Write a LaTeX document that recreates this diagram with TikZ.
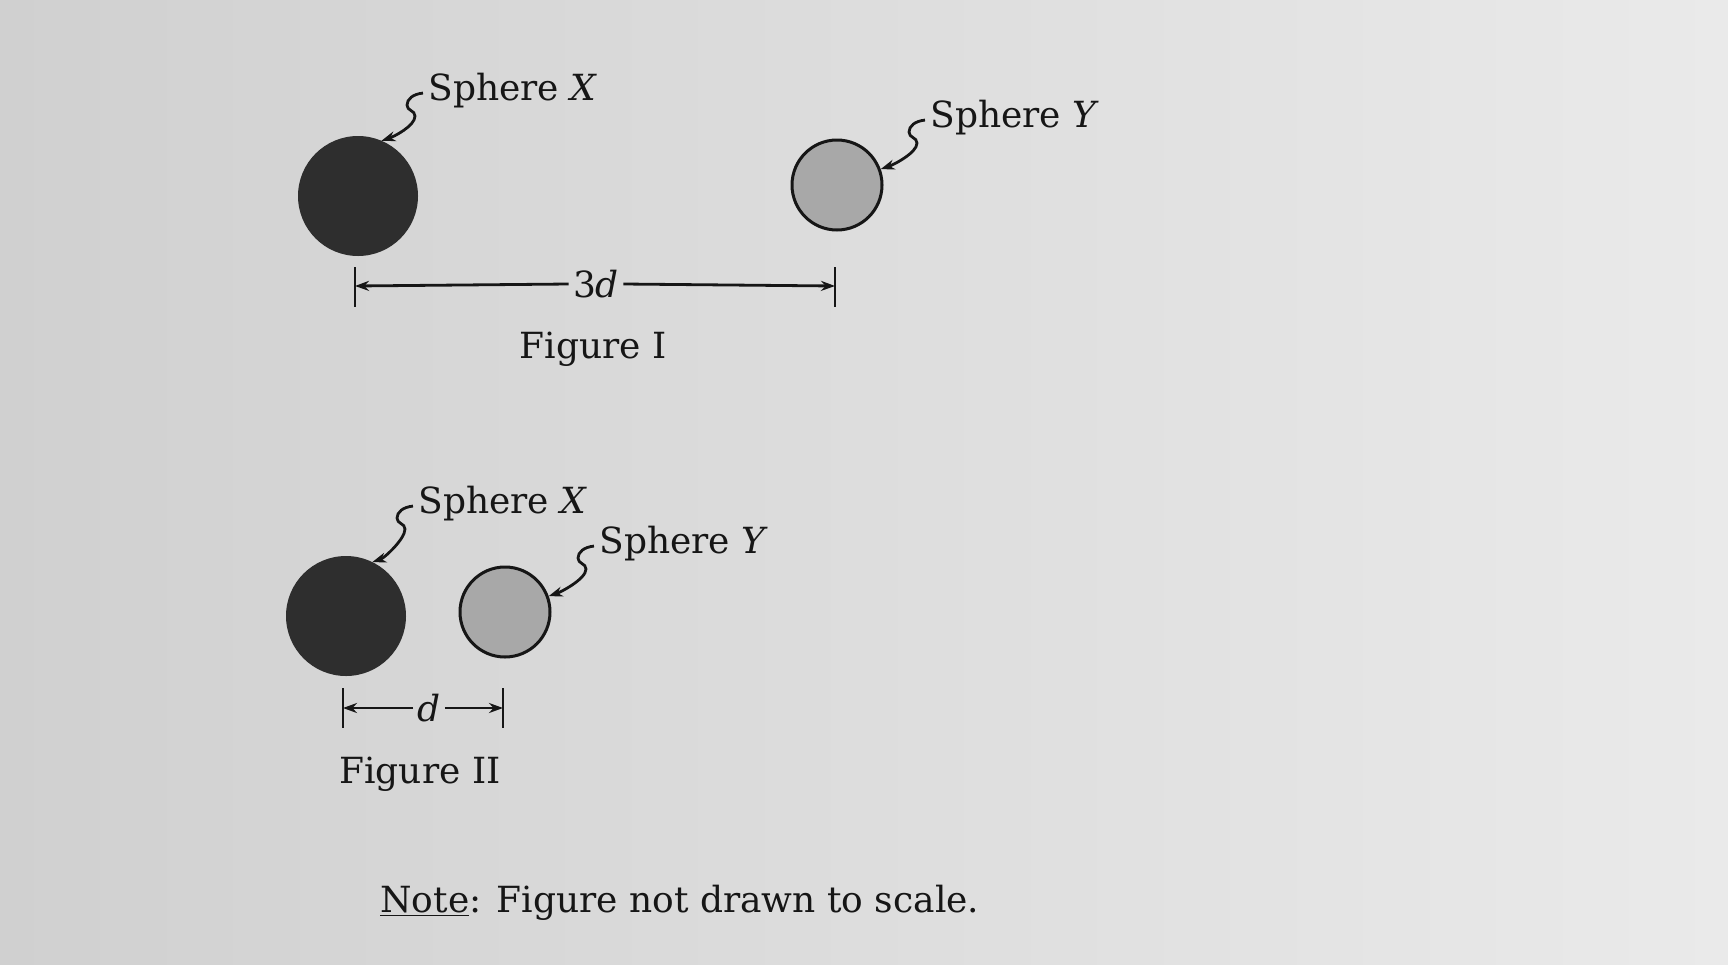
\documentclass[tikz,border=0pt]{standalone}
\usepackage{fontspec}
\setmainfont{DejaVu Serif}
\usetikzlibrary{arrows.meta,calc}
\definecolor{ink}{HTML}{161616}
\definecolor{darkball}{HTML}{2E2E2E}
\definecolor{lightball}{HTML}{A8A8A8}
\definecolor{bgleft}{HTML}{D0D0D0}
\definecolor{bgright}{HTML}{EAEAEA}
\begin{document}
\begin{tikzpicture}[x=0.5pt,y=-0.5pt,
  lbl/.style={inner sep=0pt,font=\fontsize{18}{22}\selectfont,text=ink},
  dark/.style={circle,fill=darkball,draw=darkball,line width=1pt,minimum size=59pt,inner sep=0pt},
  light/.style={circle,fill=lightball,draw=ink,line width=1.5pt,minimum size=45pt,inner sep=0pt},
  leader/.style={draw=ink,line width=1.4pt,-{Stealth[length=7pt,width=5pt]}},
  dimline/.style={draw=ink,line width=1.4pt,-{Stealth[length=7pt,width=5pt]}},
  tick/.style={draw=ink,line width=1.3pt}]
\useasboundingbox (0,0) rectangle (1728,964);
\shade[left color=bgleft,right color=bgright] (0,0) rectangle (1728,964);

% ---------- Figure I ----------
\node[dark]  (sx1) at (358,196) {};
\node[light] (sy1) at (837,185) {};
\node[lbl,anchor=base west] (lx1) at (428,100) {Sphere \textit{X}};
\node[lbl,anchor=base west] (ly1) at (930,127) {Sphere \textit{Y}};
\draw[leader] ($(lx1.west)+(-5,3)$) .. controls +(-10,1) and +(0,-6) .. ++(-16,12)
  .. controls +(0,6) and +(0,-6) .. ++(8,11)
  .. controls +(0,10) and +(12,-4) .. (sx1.67);
\draw[leader] ($(ly1.west)+(-5,3)$) .. controls +(-10,1) and +(0,-6) .. ++(-16,12)
  .. controls +(0,6) and +(0,-6) .. ++(8,11)
  .. controls +(0,10) and +(12,-4) .. (sy1.20);

\coordinate (a1) at (355,286);
\coordinate (b1) at (835,286);
\draw[tick] ($(a1)+(0,-19)$) -- ($(a1)+(0,21)$);
\draw[tick] ($(b1)+(0,-19)$) -- ($(b1)+(0,21)$);
\node[lbl,inner sep=2pt] (m1) at (596,284) {3\textit{d}};
\draw[dimline] (m1.west) -- (a1);
\draw[dimline] (m1.east) -- (b1);
\node[lbl,anchor=base] (f1) at (593,358) {Figure I};

% ---------- Figure II ----------
\node[dark]  (sx2) at (346,616) {};
\node[light] (sy2) at (505,612) {};
\node[lbl,anchor=base west] (lx2) at (418,513) {Sphere \textit{X}};
\node[lbl,anchor=base west] (ly2) at (599,553) {Sphere \textit{Y}};
\draw[leader] ($(lx2.west)+(-5,3)$) .. controls +(-10,1) and +(0,-6) .. ++(-16,12)
  .. controls +(0,6) and +(0,-6) .. ++(8,11)
  .. controls +(0,10) and +(12,-4) .. (sx2.64);
\draw[leader] ($(ly2.west)+(-5,3)$) .. controls +(-10,1) and +(0,-6) .. ++(-16,12)
  .. controls +(0,6) and +(0,-6) .. ++(8,11)
  .. controls +(0,10) and +(12,-4) .. (sy2.20);

\coordinate (a2) at (343,708);
\coordinate (b2) at (503,708);
\draw[tick] ($(a2)+(0,-20)$) -- ($(a2)+(0,20)$);
\draw[tick] ($(b2)+(0,-20)$) -- ($(b2)+(0,20)$);
\node[lbl,inner sep=2pt] (m2) at (429,708) {\textit{d}};
\draw[dimline] (m2.west) -- (a2);
\draw[dimline] (m2.east) -- (b2);
\node[lbl,anchor=base] (f2) at (420,783) {Figure II};

% ---------- Note ----------
\node[lbl,anchor=base west] (note) at (380,912) {\underline{Note}: Figure not drawn to scale.};
\end{tikzpicture}
\end{document}
